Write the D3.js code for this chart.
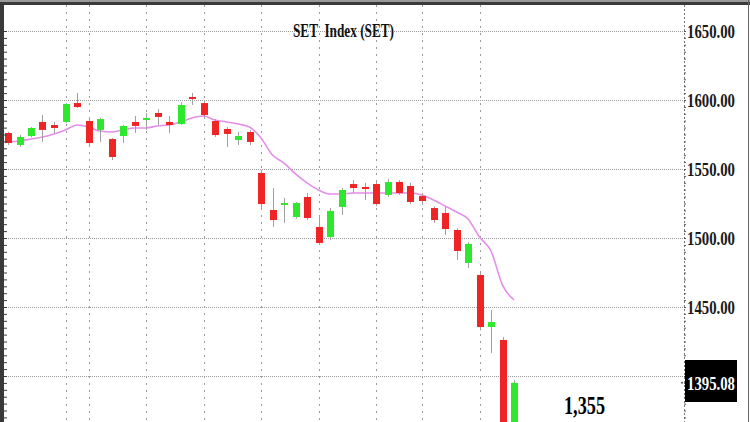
<!DOCTYPE html>
<html>
<head>
<meta charset="utf-8">
<script src="https://cdn.jsdelivr.net/npm/d3@7/dist/d3.min.js"></script>
<style>
  html, body { margin: 0; padding: 0; background: #fff; overflow: hidden; }
  svg { display: block; }
</style>
</head>
<body>
<svg id="chart" width="750" height="422"></svg>
<script>
// ---- data ----
const title = "SET  Index (SET)";
const annotation = "1,355";
const lastPrice = 1395.08;
const yTicks = [1650, 1600, 1550, 1500, 1450];
const yGrid = [1650, 1600, 1550, 1500, 1450, 1400];
const gridIdx = [5, 7, 12, 17, 22, 27, 32, 36, 41];

const opens = [1576.1, 1567.4, 1573.9, 1584.1, 1581.9, 1584.1, 1597.8, 1584.8, 1578.3, 1571.7,
               1573.9, 1584.1, 1585.5, 1590.6, 1584.1, 1582.6, 1602.2, 1597.8, 1584.8, 1579.0,
               1571.0, 1576.8, 1547.1, 1520.3, 1523.9, 1515.2, 1529.7, 1508.0, 1500.7, 1522.5,
               1539.1, 1537.0, 1539.1, 1531.2, 1540.6, 1537.7, 1530.4, 1521.7, 1518.1, 1505.8,
               1481.9, 1473.2, 1435.5, 1426.1, 1362.0];
const highs = [1577.0, 1574.6, 1580.4, 1589.1, 1584.1, 1597.8, 1605.1, 1587.0, 1587.0, 1572.5,
               1581.9, 1588.4, 1590.6, 1593.5, 1588.4, 1598.5, 1605.1, 1600.0, 1586.2, 1580.4,
               1576.8, 1578.3, 1549.3, 1536.2, 1529.0, 1526.0, 1532.6, 1515.2, 1521.7, 1536.2,
               1542.0, 1539.9, 1540.6, 1542.8, 1542.0, 1539.9, 1532.6, 1523.0, 1522.5, 1507.0,
               1497.0, 1475.0, 1447.8, 1428.3, 1397.0];
const lows  = [1567.4, 1566.0, 1573.0, 1569.6, 1576.1, 1583.3, 1594.2, 1567.4, 1569.6, 1556.5,
               1568.8, 1576.1, 1578.3, 1581.9, 1576.1, 1582.0, 1596.4, 1587.7, 1573.2, 1565.9,
               1567.4, 1567.4, 1520.3, 1508.0, 1510.9, 1514.0, 1513.0, 1495.0, 1498.5, 1516.7,
               1532.6, 1527.5, 1523.0, 1529.7, 1531.2, 1524.6, 1523.9, 1510.9, 1502.2, 1484.1,
               1478.3, 1433.0, 1416.7, 1355.0, 1357.0];
const closes = [1568.8, 1573.2, 1579.7, 1578.3, 1579.7, 1597.1, 1594.9, 1568.8, 1586.2, 1558.7,
                1581.2, 1581.2, 1587.0, 1587.7, 1581.9, 1596.4, 1600.7, 1589.1, 1574.6, 1575.4,
                1573.9, 1569.6, 1524.6, 1513.0, 1525.4, 1525.4, 1514.5, 1496.4, 1519.6, 1534.8,
                1536.2, 1535.5, 1524.6, 1540.6, 1532.6, 1526.1, 1526.8, 1513.0, 1506.5, 1490.6,
                1495.7, 1435.5, 1439.1, 1358.0, 1395.08];
const maValues = [1569.6, 1570.3, 1571.7, 1573.2, 1575.4, 1578.3, 1581.9, 1580.4, 1577.5, 1576.8,
                  1578.3, 1579.7, 1579.7, 1581.2, 1581.9, 1584.1, 1587.0, 1588.4, 1585.5, 1584.1,
                  1582.6, 1580.4, 1572.5, 1560.1, 1554.3, 1546.4, 1539.9, 1534.8, 1531.9, 1531.9,
                  1532.6, 1532.6, 1532.6, 1532.6, 1532.6, 1532.6, 1531.2, 1527.5, 1523.2, 1518.8,
                  1513.8, 1500.7, 1490.6, 1465.9, 1455.1];

// ---- chart ----
const svg = d3.select("#chart");
const W = 750, H = 422;
const plotLeft = 4, plotRight = 684, plotTop = 5;
const serif = "'Liberation Serif', 'Times New Roman', serif";

const x = d3.scaleLinear().domain([0, opens.length - 1]).range([8, 514]);
const y = d3.scaleLinear().domain([1400, 1650]).range([376, 31]);

svg.append("rect").attr("width", W).attr("height", H).attr("fill", "#fff");

// horizontal grid
svg.append("g").selectAll("line").data(yGrid).join("line")
  .attr("x1", plotLeft).attr("x2", plotRight)
  .attr("y1", d => Math.round(y(d)) + 0.5).attr("y2", d => Math.round(y(d)) + 0.5)
  .attr("stroke", "#9a9a9a").attr("stroke-width", 1).attr("stroke-dasharray", "1,1");

// vertical grid
svg.append("g").selectAll("line").data(gridIdx).join("line")
  .attr("x1", d => Math.round(x(d)) + 0.5).attr("x2", d => Math.round(x(d)) + 0.5)
  .attr("y1", plotTop).attr("y2", H)
  .attr("stroke", "#9a9a9a").attr("stroke-width", 1).attr("stroke-dasharray", "2,5");

// title
svg.append("text")
  .attr("x", 293).attr("y", 37)
  .attr("textLength", 101).attr("lengthAdjust", "spacingAndGlyphs")
  .style("white-space", "pre")
  .attr("font-family", serif)
  .attr("font-weight", "bold").attr("font-size", 18).attr("fill", "#111")
  .text(title);

// moving average
svg.append("path")
  .datum(maValues)
  .attr("d", d3.line().x((d, i) => x(i)).y(d => y(d)).curve(d3.curveMonotoneX))
  .attr("fill", "none").attr("stroke", "#e48ee8").attr("stroke-width", 1.6);

// candles
const candles = opens.map((o, i) => ({ i, o, h: highs[i], l: lows[i], c: closes[i] }));
const red = "#f02424", green = "#2ee82e";
const cg = svg.append("g").selectAll("g").data(candles).join("g");
cg.append("line")
  .attr("x1", d => Math.round(x(d.i)) + 0.5).attr("x2", d => Math.round(x(d.i)) + 0.5)
  .attr("y1", d => y(d.h)).attr("y2", d => y(d.l))
  .attr("stroke", "#a0a0a0").attr("stroke-width", 1);
cg.append("rect")
  .attr("x", d => Math.round(x(d.i)) - 3)
  .attr("width", 7)
  .attr("y", d => y(Math.max(d.o, d.c)))
  .attr("height", d => Math.max(2, Math.abs(y(d.o) - y(d.c))))
  .attr("fill", d => d.c >= d.o ? green : red);

// frame: left bar, top bar, right border
svg.append("rect").attr("x", 0).attr("y", 0).attr("width", 4).attr("height", H).attr("fill", "#3a3a3a");
svg.append("rect").attr("x", 0).attr("y", 0).attr("width", W).attr("height", 2).attr("fill", "#9a9a9a");
svg.append("rect").attr("x", 0).attr("y", 2).attr("width", W).attr("height", 3).attr("fill", "#3a3a3a");
svg.append("line").attr("x1", 748.5).attr("x2", 748.5).attr("y1", 0).attr("y2", H)
  .attr("stroke", "#666").attr("stroke-width", 1);

// minor ticks on left bar
const minorTicks = d3.range(1360, 1655, 5);
svg.append("g").attr("transform", `translate(4,0)`)
  .call(d3.axisRight(y).tickValues(minorTicks).tickSize(3).tickFormat(""))
  .call(g => g.select(".domain").remove())
  .call(g => g.selectAll("line").attr("stroke", "#3a3a3a"));

// right axis: dashed line + minor ticks + labels
svg.append("line").attr("x1", plotRight + 0.5).attr("x2", plotRight + 0.5)
  .attr("y1", plotTop).attr("y2", H)
  .attr("stroke", "#777").attr("stroke-dasharray", "2,2");
svg.append("g").attr("transform", `translate(${plotRight},0)`)
  .call(d3.axisRight(y).tickValues(minorTicks).tickSize(2).tickFormat(""))
  .call(g => g.select(".domain").remove())
  .call(g => g.selectAll("line").attr("stroke", "#555"));

svg.append("g").selectAll("text").data(yTicks).join("text")
  .attr("x", 687).attr("y", d => y(d) + 6.5)
  .attr("textLength", 48).attr("lengthAdjust", "spacingAndGlyphs")
  .attr("font-family", serif)
  .attr("font-weight", "bold").attr("font-size", 19).attr("fill", "#1a1a1a")
  .text(d => d3.format(".2f")(d));

// last price box
svg.append("rect").attr("x", 685).attr("y", 360).attr("width", 52).attr("height", 42).attr("fill", "#000");
svg.append("text")
  .attr("x", 687).attr("y", y(lastPrice) + 7)
  .attr("textLength", 48).attr("lengthAdjust", "spacingAndGlyphs")
  .attr("font-family", serif)
  .attr("font-weight", "bold").attr("font-size", 19).attr("fill", "#fff")
  .text(d3.format(".2f")(lastPrice));
svg.append("circle").attr("cx", 682).attr("cy", y(lastPrice)).attr("r", 1).attr("fill", "#555");

// annotation
svg.append("text")
  .attr("x", 564).attr("y", 414)
  .attr("textLength", 41).attr("lengthAdjust", "spacingAndGlyphs")
  .attr("font-family", serif)
  .attr("font-weight", "bold").attr("font-size", 26).attr("fill", "#000")
  .text(annotation);
</script>
</body>
</html>
